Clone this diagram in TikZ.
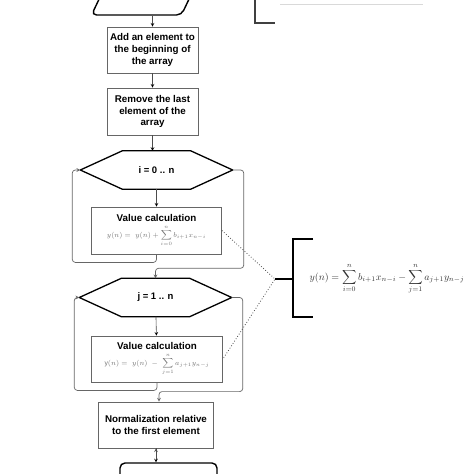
\documentclass[tikz,border=0pt]{standalone}
\usepackage{amsmath}
\usepackage{fontspec}
\setmainfont{Liberation Sans}
\usetikzlibrary{shapes.geometric}
\newcommand{\formulafont}{\color{black!55}\fontsize{6.8}{8}\selectfont\mdseries}

\begin{document}
\begin{tikzpicture}[x=1pt, y=-1pt, >=stealth, node distance=61pt]
  \tikzstyle{proc} = [rectangle, draw=black!60, line width=0.8pt, align=center,
  inner sep=2pt, font=\fontsize{9.8}{11.6}\selectfont\bfseries]
  \tikzstyle{loopnode} = [rectangle, minimum width=152pt, minimum height=38pt,
  font=\fontsize{9.5}{11}\selectfont\bfseries]
  \tikzstyle{term} = [draw, line width=1.4pt, rounded corners=5pt]
  \tikzstyle{back} = [draw=black!60, line width=0.7pt, rounded corners=3pt]
  \useasboundingbox (0,0) rectangle (474,474);

  % Define nodes
  \node[term, trapezium, trapezium left angle=75, trapezium right angle=105,
    trapezium stretches=true, minimum width=109pt, minimum height=40pt] (start) at (146,-5) {};
  \node[proc, minimum width=91pt, minimum height=46pt] (add) at (152.5,50)
    {Add an element to\\the beginning of\\the array};
  \node[proc, minimum width=91pt, minimum height=47pt, below of=add, node distance=61.5pt] (remove)
    {Remove the last\\element of the\\array};
  \node[loopnode, below of=remove, node distance=58.5pt, xshift=4pt] (loopi) {i = 0 .. n};
  \node[proc, minimum width=130pt, minimum height=47pt, below of=loopi, node distance=60.5pt] (val1)
    {Value calculation\\[3pt]
    {\formulafont $y(n) =\; y(n) + \displaystyle\sum_{i=0}^{n} b_{i+1}x_{n-i}$}};
  \node[loopnode, below of=val1, node distance=67pt, xshift=-1pt] (loopj) {j = 1 .. n};
  \node[proc, minimum width=131pt, minimum height=46pt, below of=loopj, node distance=61.5pt, xshift=1.5pt] (val2)
    {Value calculation\\[3pt]
    {\formulafont $\mathrm{y}(n) =\; y(n) \;-\; \displaystyle\sum_{j=1}^{n} a_{j+1}y_{n-j}$}};
  \node[proc, minimum width=115pt, minimum height=46pt, below of=val2, node distance=66pt, xshift=-1pt] (norm)
    {Normalization relative\\to the first element};
  \node[term, minimum width=97pt, minimum height=30pt] (stop) at (168.5,478) {};

  % hexagons of the loops
  \foreach \n in {loopi, loopj}
    \draw[line width=1.3pt, line join=round] (\n.west) -- ([xshift=42pt]\n.north west)
      -- ([xshift=-42pt]\n.north east) -- (\n.east) -- ([xshift=-42pt]\n.south east)
      -- ([xshift=42pt]\n.south west) -- cycle;

  \path [->, draw=black!70, line width=0.6pt]
    (start.south -| add.north) edge (add)
    (add) edge (remove)
    (remove.south) edge (remove.south |- loopi.north)
    (loopi) edge (val1)
    (loopj) edge (val2)
    (norm.south) edge (norm.south |- stop.north);

  % loops back and exits
  \draw[back, ->] (val1.south) -- ++(0,8) -| ([xshift=-8pt]loopi.west) -- (loopi.west);
  \draw[back, ->] (loopi.east) -- ++(11,0) |- ([yshift=10pt]loopj.north) -- (loopj.north);
  \draw[back, ->] (val2.south) -- ++(0,8) -| ([xshift=-5pt]loopj.west) -- (loopj.west);
  \draw[back, ->] (loopj.east) -- ++(11,0) |- ([yshift=10pt, xshift=3pt]norm.north) -- ([xshift=3pt]norm.north);

  % full formula on the right
  \node[text=black!80, font=\fontsize{10}{12}\selectfont] (eq) at (387,279)
    {$y(n) = \displaystyle\sum_{i=0}^{n} b_{i+1}x_{n-i} - \sum_{j=1}^{n} a_{j+1}y_{n-j}$};
  \coordinate (brk) at (275,279);
  \draw[dotted, line width=0.8pt, black!70] (val1.east) -- (brk) -- (val2.east);
  \draw[line width=1.5pt] (brk) -- ++(18,0);
  \draw[line width=1.5pt] (313,239) -- (293,239) -- (293,317) -- (313,317);

  % cut-off bracket at the top
  \draw[line width=1.2pt, black!75] (255,-2) -- (255,23) -- (275,23);
  \draw[black!15, line width=0.6pt] (280,4) -- (423,4);
\end{tikzpicture}
\end{document}
